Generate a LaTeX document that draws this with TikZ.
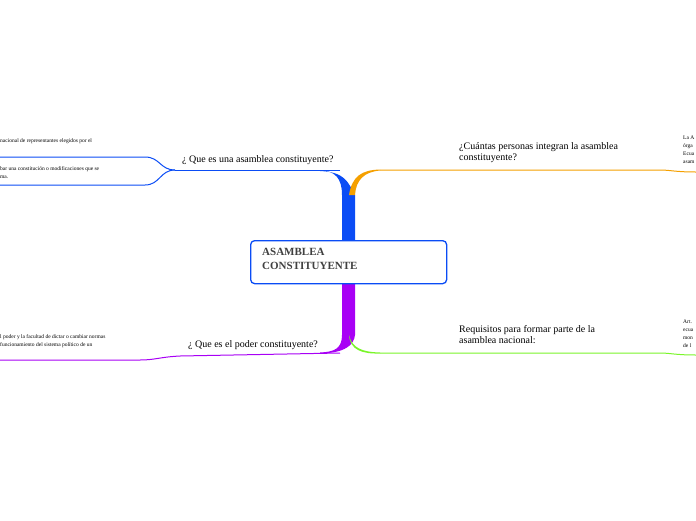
\documentclass[tikz,border=0pt]{standalone}
\usepackage{fontspec}
\setmainfont{Liberation Serif}
\begin{document}
\begin{tikzpicture}[x=1pt,y=-1pt,
  lbl/.style={anchor=north west,inner sep=0,font=\fontsize{10}{11}\selectfont,align=left},
  sm/.style={anchor=north west,inner sep=0,font=\fontsize{5.5}{8}\selectfont,align=left},
  thin/.style={line width=1pt}]
\useasboundingbox (0,0) rectangle (696,520);
\definecolor{cb}{HTML}{0A4CF5}
\definecolor{co}{HTML}{F5A000}
\definecolor{cp}{HTML}{A800F5}
\definecolor{cg}{HTML}{7AF52A}
% spines
\fill[cb] (342,240) -- (342,195) .. controls (342,178) and (335,171) .. (320,170) -- (320,171) .. controls (345,172) and (348,182) .. (355,195) -- (355,240) -- cycle;
\fill[co] (349,195) .. controls (352,176) and (362,170) .. (380,169.5) -- (380,170.5) .. controls (364,172) and (356,180) .. (355,195) -- cycle;
\fill[cp] (342,283) -- (342,335) .. controls (342,348) and (335,352) .. (320,352.5) -- (320,353.5) .. controls (345,353) and (354,345) .. (355,335) -- (355,283) -- cycle;
\fill[cg] (349,335) .. controls (352,348) and (362,352) .. (380,352.5) -- (380,353.5) .. controls (362,354) and (350,350) .. (349,335) -- cycle;
% central
\node[draw=cb,line width=1.3pt,rounded corners=4pt,fill=white,minimum width=196,minimum height=43,anchor=north west] (c) at (250,240) {};
\node[anchor=north west,inner sep=0,font=\fontsize{11}{14}\selectfont\bfseries,text=black!75,align=left] (ct) at (262,248) {ASAMBLEA\\CONSTITUYENTE};
% top-left
\coordinate (tl) at (175,170);
\draw[cb,thin] (340,170) -- (tl);
\draw[cb,thin] (tl) .. controls (160,170) and (160,157) .. (145,157) -- (0,157);
\draw[cb,thin] (tl) .. controls (160,170) and (160,185) .. (145,185) -- (0,185);
\node[lbl] (l1) at (182,155) {¿ Que es una asamblea constituyente?};
\node[sm] (t1) at (0,138) {nacional de representantes elegidos por el};
\node[sm] (t2) at (0,166) {bar una constitución o modificaciones que se\\ma.};
% top-right
\draw[co,thin] (380,170) -- (660,170) .. controls (670,170) and (675,172) .. (696,172);
\node[lbl] (l2) at (459,142) {¿Cuántas personas integran la asamblea\\constituyente?};
\node[sm] (t3) at (683,136) {La A\\órga\\Ecua\\asam};
% bottom-left
\draw[cp,thin] (340,353) -- (180,356) .. controls (160,357) and (155,360) .. (140,360) -- (0,360);
\node[lbl] (l3) at (188,340) {¿ Que es el poder constituyente?};
\node[sm] (t4) at (0,334) {l poder y la facultad de dictar o cambiar normas\\funcionamiento del sistema político de un};
% bottom-right
\draw[cg,thin] (380,353) -- (660,353) .. controls (670,353) and (675,355) .. (696,355);
\node[lbl] (l4) at (459,325) {Requisitos para formar parte de la\\asamblea nacional:};
\node[sm] (t5) at (683,320) {Art.\\ecua\\mon\\de l};
\end{tikzpicture}
\end{document}
